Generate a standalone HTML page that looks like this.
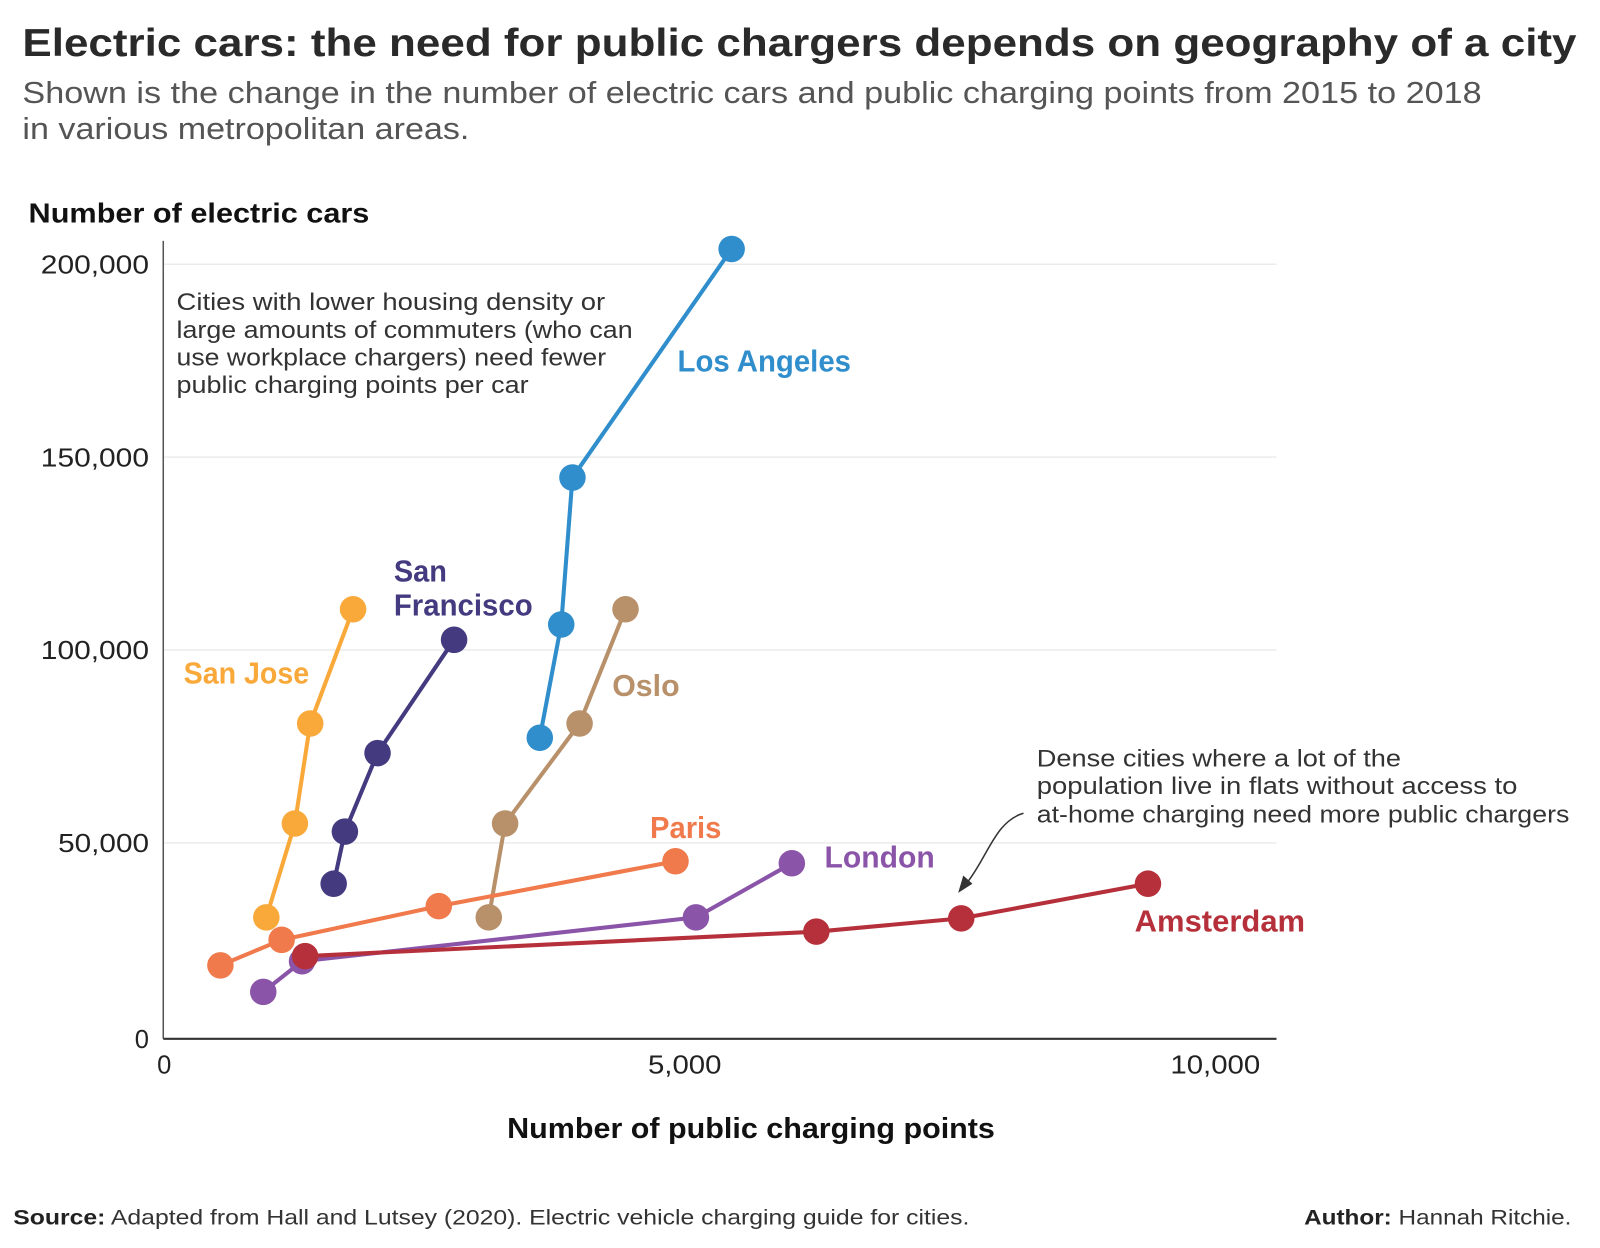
<!DOCTYPE html>
<html><head><meta charset="utf-8"><style>
html,body{margin:0;padding:0;background:#fff;}
svg{display:block;}
text{font-family:"Liberation Sans",sans-serif;}
</style></head><body>
<svg width="1600" height="1248" viewBox="0 0 1568 1223" preserveAspectRatio="none" xmlns="http://www.w3.org/2000/svg">
<rect width="1568" height="1223" fill="#fff"/>
<text x="22" y="55" font-size="38" font-weight="bold" fill="#2a2a2a" textLength="1523" lengthAdjust="spacingAndGlyphs">Electric cars: the need for public chargers depends on geography of a city</text>
<text x="22" y="101" font-size="30" fill="#555" textLength="1430" lengthAdjust="spacingAndGlyphs">Shown is the change in the number of electric cars and public charging points from 2015 to 2018</text>
<text x="22" y="136" font-size="30" fill="#555" textLength="438" lengthAdjust="spacingAndGlyphs">in various metropolitan areas.</text>
<text x="28" y="218" font-size="27" font-weight="bold" fill="#111" textLength="334" lengthAdjust="spacingAndGlyphs">Number of electric cars</text>
<g stroke="#ebebeb" stroke-width="1.5">
<line x1="161" y1="259" x2="1251" y2="259"/><line x1="161" y1="448" x2="1251" y2="448"/>
<line x1="161" y1="637" x2="1251" y2="637"/><line x1="161" y1="826" x2="1251" y2="826"/>
</g>
<line x1="160" y1="236" x2="160" y2="1018" stroke="#555" stroke-width="1.5"/>
<line x1="160" y1="1018" x2="1251" y2="1018" stroke="#333" stroke-width="2"/>
<g font-size="25" fill="#222" text-anchor="end">
<text x="146" y="268" textLength="106" lengthAdjust="spacingAndGlyphs">200,000</text>
<text x="146" y="457" textLength="106" lengthAdjust="spacingAndGlyphs">150,000</text>
<text x="146" y="646" textLength="106" lengthAdjust="spacingAndGlyphs">100,000</text>
<text x="146" y="835" textLength="89" lengthAdjust="spacingAndGlyphs">50,000</text>
<text x="146" y="1027">0</text>
</g>
<g font-size="25" fill="#222" text-anchor="middle">
<text x="161" y="1052">0</text>
<text x="671" y="1052" textLength="72" lengthAdjust="spacingAndGlyphs">5,000</text>
<text x="1191" y="1052" textLength="88" lengthAdjust="spacingAndGlyphs">10,000</text>
</g>
<text x="736" y="1115" font-size="28" font-weight="bold" fill="#111" text-anchor="middle" textLength="478" lengthAdjust="spacingAndGlyphs">Number of public charging points</text>
<g font-size="24" fill="#333">
<text x="173" y="304" textLength="420" lengthAdjust="spacingAndGlyphs">Cities with lower housing density or</text>
<text x="173" y="331" textLength="447" lengthAdjust="spacingAndGlyphs">large amounts of commuters (who can</text>
<text x="173" y="358" textLength="421" lengthAdjust="spacingAndGlyphs">use workplace chargers) need fewer</text>
<text x="173" y="385" textLength="345" lengthAdjust="spacingAndGlyphs">public charging points per car</text>
<text x="1016" y="751" textLength="357" lengthAdjust="spacingAndGlyphs">Dense cities where a lot of the</text>
<text x="1016" y="778" textLength="471" lengthAdjust="spacingAndGlyphs">population live in flats without access to</text>
<text x="1016" y="806" textLength="522" lengthAdjust="spacingAndGlyphs">at-home charging need more public chargers</text>
</g>
<path d="M1003,797 C975,805 968,840 947,866" fill="none" stroke="#333" stroke-width="1.5"/>
<path d="M939,875 L944,858 L953,866 Z" fill="#333"/>
<g fill="none" stroke-width="4" stroke-linejoin="round">
<polyline stroke="#f9a93a" points="261,899 289,807 304,709 346,597"/>
<polyline stroke="#433a7f" points="327,866 338,815 370,738 445,627"/>
<polyline stroke="#2f8ecb" points="529,723 550,612 561,468 717,244"/>
<polyline stroke="#b8916b" points="479,899 495,807 568,709 613,597"/>
<polyline stroke="#f07a4b" points="216,946 276,921 430,888 662,844"/>
<polyline stroke="#8a55a8" points="258,972 296,942 682,899 776,846"/>
<polyline stroke="#b5303a" points="299,937 800,913 942,900 1125,866"/>
</g>
<g fill="#f9a93a"><circle cx="261" cy="899" r="13"/><circle cx="289" cy="807" r="13"/><circle cx="304" cy="709" r="13"/><circle cx="346" cy="597" r="13"/></g>
<g fill="#433a7f"><circle cx="327" cy="866" r="13"/><circle cx="338" cy="815" r="13"/><circle cx="370" cy="738" r="13"/><circle cx="445" cy="627" r="13"/></g>
<g fill="#2f8ecb"><circle cx="529" cy="723" r="13"/><circle cx="550" cy="612" r="13"/><circle cx="561" cy="468" r="13"/><circle cx="717" cy="244" r="13"/></g>
<g fill="#b8916b"><circle cx="479" cy="899" r="13"/><circle cx="495" cy="807" r="13"/><circle cx="568" cy="709" r="13"/><circle cx="613" cy="597" r="13"/></g>
<g fill="#f07a4b"><circle cx="216" cy="946" r="13"/><circle cx="276" cy="921" r="13"/><circle cx="430" cy="888" r="13"/><circle cx="662" cy="844" r="13"/></g>
<g fill="#8a55a8"><circle cx="258" cy="972" r="13"/><circle cx="296" cy="942" r="13"/><circle cx="682" cy="899" r="13"/><circle cx="776" cy="846" r="13"/></g>
<g fill="#b5303a"><circle cx="299" cy="937" r="13"/><circle cx="800" cy="913" r="13"/><circle cx="942" cy="900" r="13"/><circle cx="1125" cy="866" r="13"/></g>
<g font-size="30" font-weight="bold">
<text x="664" y="364" fill="#2f8ecb" textLength="170" lengthAdjust="spacingAndGlyphs">Los Angeles</text>
<text x="386" y="570" fill="#433a7f" textLength="52" lengthAdjust="spacingAndGlyphs">San</text>
<text x="386" y="603" fill="#433a7f" textLength="136" lengthAdjust="spacingAndGlyphs">Francisco</text>
<text x="180" y="670" fill="#f9a93a" textLength="123" lengthAdjust="spacingAndGlyphs">San Jose</text>
<text x="600" y="682" fill="#b8916b" textLength="66" lengthAdjust="spacingAndGlyphs">Oslo</text>
<text x="637" y="821" fill="#f07a4b" textLength="70" lengthAdjust="spacingAndGlyphs">Paris</text>
<text x="808" y="850" fill="#8a55a8" textLength="108" lengthAdjust="spacingAndGlyphs">London</text>
<text x="1112" y="913" fill="#b5303a" textLength="167" lengthAdjust="spacingAndGlyphs">Amsterdam</text>
</g>
<text x="13" y="1200" font-size="21" fill="#333" textLength="937" lengthAdjust="spacingAndGlyphs"><tspan font-weight="bold" fill="#222">Source:</tspan> Adapted from Hall and Lutsey (2020). Electric vehicle charging guide for cities.</text>
<text x="1540" y="1200" font-size="21" fill="#333" text-anchor="end" textLength="262" lengthAdjust="spacingAndGlyphs"><tspan font-weight="bold" fill="#222">Author:</tspan> Hannah Ritchie.</text>
</svg>
</body></html>
